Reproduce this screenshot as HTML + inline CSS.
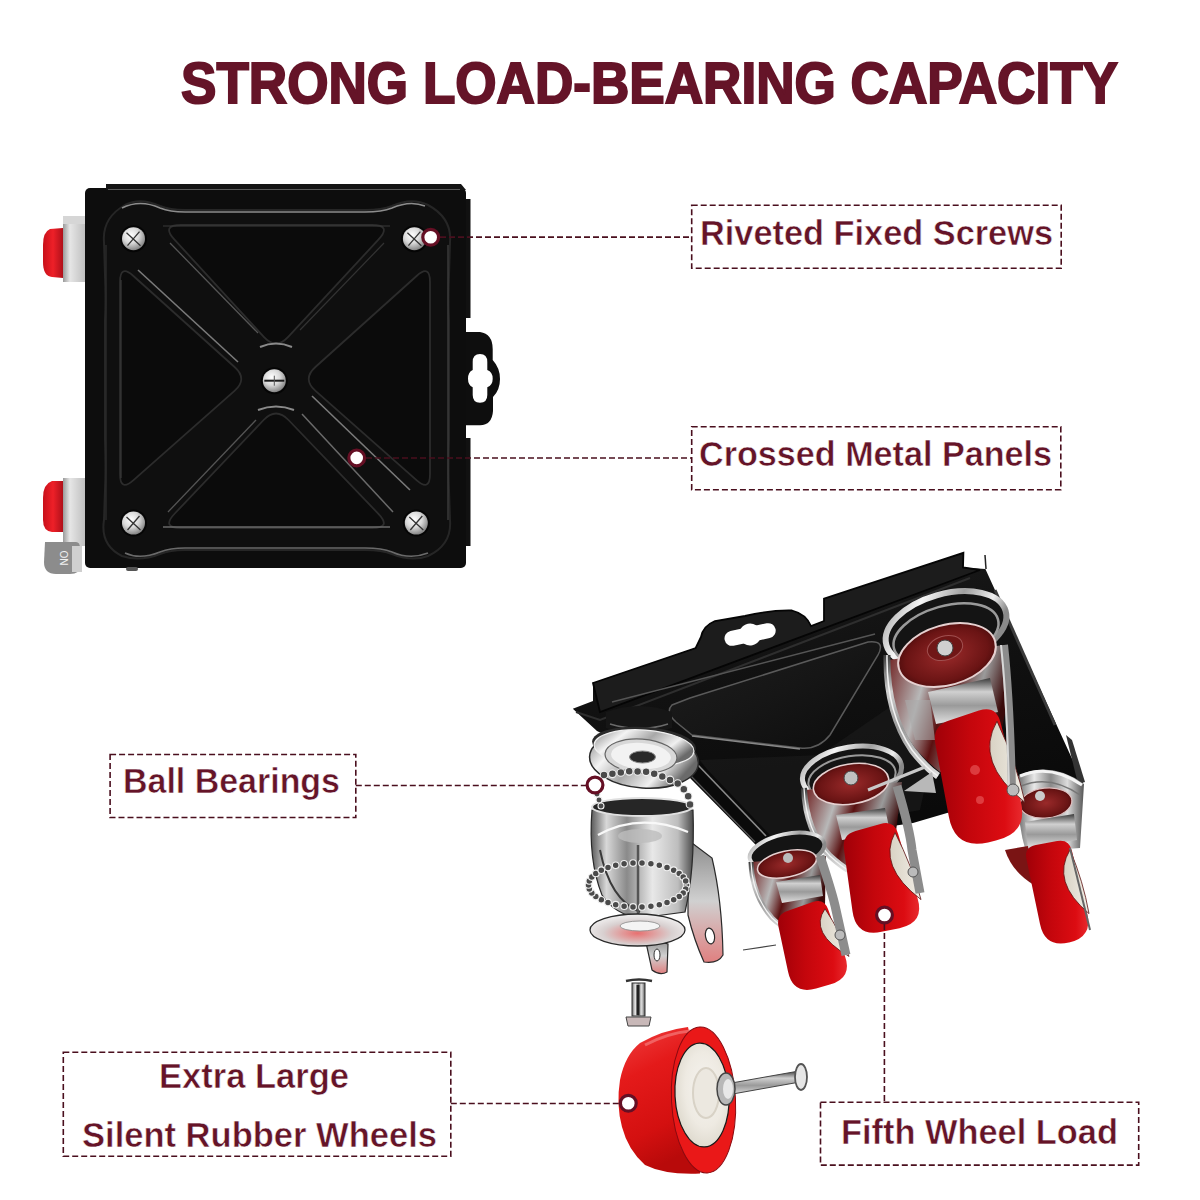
<!DOCTYPE html>
<html><head><meta charset="utf-8">
<style>
html,body{margin:0;padding:0;background:#fff;width:1200px;height:1200px;overflow:hidden}
svg{display:block}
.t{font-family:"Liberation Sans",sans-serif;font-weight:bold;fill:#651428;stroke:#fff;stroke-width:0.5}
.dl{stroke:#4a0f1e;stroke-width:1.6;stroke-dasharray:6 3;fill:none}
</style></head><body>
<svg width="1200" height="1200" viewBox="0 0 1200 1200">

<!-- ===== TOP PLATE ===== -->
<defs>
<radialGradient id="scr" cx="0.4" cy="0.35" r="0.7">
<stop offset="0" stop-color="#ffffff"/><stop offset="0.5" stop-color="#d8d8d8"/><stop offset="1" stop-color="#7a7a7a"/>
</radialGradient>
<linearGradient id="brk" x1="0" x2="1" y1="0" y2="0">
<stop offset="0" stop-color="#9a9a9a"/><stop offset="0.3" stop-color="#e6e6e6"/><stop offset="1" stop-color="#bdbdbd"/>
</linearGradient>
<linearGradient id="redk" x1="0" x2="1" y1="0" y2="0">
<stop offset="0" stop-color="#c8101a"/><stop offset="0.5" stop-color="#ee2028"/><stop offset="1" stop-color="#b0101a"/>
</linearGradient>
</defs>
<!-- left knobs -->
<rect x="63" y="216" width="23" height="66" fill="url(#brk)"/>
<rect x="63" y="216" width="23" height="8" fill="#d6d6d6"/>
<path d="M63 228 L50 229 Q43 232 43 245 L43 262 Q43 276 52 277 L63 278 Z" fill="url(#redk)"/>
<rect x="63" y="478" width="23" height="68" fill="url(#brk)"/>
<path d="M63 481 L52 481 Q43 484 43 498 L43 520 Q43 531 52 532 L63 532 Z" fill="url(#redk)"/>
<path d="M45 542 L76 542 Q80 542 80 548 L80 566 Q80 574 70 574 L56 574 Q44 574 44 562 Z" fill="#8c8c8c"/>
<rect x="72" y="546" width="10" height="26" fill="#cfcfcf"/>
<text x="0" y="0" transform="translate(60,558) rotate(90)" font-family="Liberation Sans" font-size="10" fill="#f0f0f0" text-anchor="middle">ON</text>
<!-- right flanges & tab -->
<rect x="458" y="199" width="12.5" height="119" fill="#111"/>
<rect x="458" y="438" width="12.5" height="108" fill="#111"/>
<path d="M455 332 L480 332 Q492.7 334 492.7 349 L492.7 360 Q500 368 500 379 Q500 390 493 397 L493 411 Q492 425 480 425.3 L455 425.3 Z" fill="#0e0e0e"/>
<path d="M472.7 362 Q472.7 354 480 354 Q487.3 354 487.3 362 L487.3 370 Q492.7 372 492.7 378.7 Q492.7 385 487.3 387.3 L487.3 395 Q487.3 402.7 480 402.7 Q472.7 402.7 472.7 395 L472.7 387.3 Q468 385 468 378.7 Q468 372 472.7 370 Z" fill="#fff"/>
<!-- plate body -->
<rect x="85" y="188" width="381" height="380" rx="5" fill="#0d0d0d"/>
<path d="M106 184 L461 184 L466 190 L106 190 Z" fill="#141414"/>
<line x1="108" y1="189.5" x2="460" y2="189.5" stroke="#5a5a5a" stroke-width="1"/>

<path d="M125 205 Q140 197 160 206 Q170 210 185 210 L365 210 Q382 210 392 206 Q412 197 428 205 Q452 218 450 242 L449 275 Q448 300 449 320 L449 440 Q448 470 449 490 L450 520 Q452 545 428 556 Q412 562 392 554 Q382 550 365 550 L185 550 Q170 550 160 554 Q140 562 122 556 Q100 545 104 520 L105 490 Q106 470 105 440 L105 320 Q106 300 105 275 L104 242 Q102 218 125 205 Z" fill="#0f0f0f" stroke="#262626" stroke-width="2"/>
<path d="M122 208 Q140 199 160 208 Q170 212 185 212 L365 212 Q382 212 392 208 Q410 200 425 206" fill="none" stroke="#8c8c8c" stroke-width="1.6"/>
<path d="M125 553 Q140 560 160 552 Q170 548 185 548 L365 548 Q382 548 392 552 Q410 560 428 553" fill="none" stroke="#6a6a6a" stroke-width="1.6"/>
<path d="M448 245 L448 520" stroke="#3a3a3a" stroke-width="1.5"/>
<path d="M106 245 L106 520" stroke="#2a2a2a" stroke-width="1.5"/>
<path d="M174.5 239.7 Q161.0 225.0 181.0 225.0 L372.0 225.0 Q392.0 225.0 378.4 239.7 L288.2 336.8 Q276.0 350.0 263.8 336.8 Z" fill="#0b0b0b" stroke="#2c2c2c" stroke-width="1.8"/>
<path d="M120.0 282.0 Q120.0 264.0 133.4 276.0 L234.6 367.0 Q248.0 379.0 234.5 390.9 L133.5 480.1 Q120.0 492.0 120.0 474.0 Z" fill="#0b0b0b" stroke="#2c2c2c" stroke-width="1.8"/>
<path d="M430.0 282.0 Q430.0 264.0 416.6 276.0 L315.4 367.0 Q302.0 379.0 315.5 390.9 L416.5 480.1 Q430.0 492.0 430.0 474.0 Z" fill="#0b0b0b" stroke="#2c2c2c" stroke-width="1.8"/>
<path d="M174.8 513.5 Q161.0 528.0 181.0 528.0 L372.0 528.0 Q392.0 528.0 378.2 513.6 L288.5 420.0 Q276.0 407.0 263.6 420.0 Z" fill="#0b0b0b" stroke="#2c2c2c" stroke-width="1.8"/>
<path d="M138 270 L238 362" stroke="#7a7a7a" stroke-width="1.6"/>
<path d="M170 243 L258 333" stroke="#555" stroke-width="1.3"/>
<path d="M384 243 L300 330" stroke="#333" stroke-width="1.2"/>
<path d="M302 414 L393 512" stroke="#6a6a6a" stroke-width="1.5"/>
<path d="M312 396 L410 490" stroke="#7a7a7a" stroke-width="1.6"/>
<path d="M168 512 L256 420" stroke="#555" stroke-width="1.3"/>
<path d="M163 527 L390 527" stroke="#6a6a6a" stroke-width="1.4"/>
<path d="M163 226 L390 226" stroke="#3a3a3a" stroke-width="1.2"/>
<path d="M121 280 L121 478" stroke="#3a3a3a" stroke-width="1.2"/>
<path d="M260 347 Q276 340 292 347" stroke="#8a8a8a" stroke-width="2" fill="none"/>
<path d="M258 410 Q276 403 294 410" stroke="#8a8a8a" stroke-width="2" fill="none"/>
<circle cx="133.5" cy="238.7" r="13.5" fill="#050505"/><circle cx="133.5" cy="238.7" r="11.5" fill="url(#scr)"/>
<path d="M126.5 232.7 L140.5 245.7 M139.5 231.7 L127.5 245.7" stroke="#333" stroke-width="1.3"/>
<circle cx="414.4" cy="238.7" r="13.5" fill="#050505"/><circle cx="414.4" cy="238.7" r="11.5" fill="url(#scr)"/>
<path d="M407.4 232.7 L421.4 245.7 M420.4 231.7 L408.4 245.7" stroke="#333" stroke-width="1.3"/>
<circle cx="274.3" cy="380.7" r="13.5" fill="#050505"/><circle cx="274.3" cy="380.7" r="11.5" fill="url(#scr)"/>
<path d="M264.3 380.7 L284.3 380.7" stroke="#1a1a1a" stroke-width="2"/><path d="M274.3 375.7 L274.3 385.7" stroke="#555" stroke-width="1"/>
<circle cx="133.5" cy="523" r="13.5" fill="#050505"/><circle cx="133.5" cy="523" r="11.5" fill="url(#scr)"/>
<path d="M126.5 517 L140.5 530 M139.5 516 L127.5 530" stroke="#333" stroke-width="1.3"/>
<circle cx="416.3" cy="523" r="13.5" fill="#050505"/><circle cx="416.3" cy="523" r="11.5" fill="url(#scr)"/>
<path d="M409.3 517 L423.3 530 M422.3 516 L410.3 530" stroke="#333" stroke-width="1.3"/>
<rect x="126" y="567" width="12" height="4" rx="2" fill="#555"/>
<!-- ===== ASSEMBLY ===== -->
<defs>
<linearGradient id="plt" x1="0" y1="0" x2="0.3" y2="1">
<stop offset="0" stop-color="#1c1c1c"/><stop offset="0.5" stop-color="#111"/><stop offset="1" stop-color="#0a0a0a"/>
</linearGradient>
<linearGradient id="pan" x1="0" y1="0" x2="1" y2="1">
<stop offset="0" stop-color="#1e1e1e"/><stop offset="0.5" stop-color="#161616"/><stop offset="1" stop-color="#0c0c0c"/>
</linearGradient>
<linearGradient id="chr" x1="0" y1="0" x2="1" y2="0">
<stop offset="0" stop-color="#6a6a6a"/><stop offset="0.25" stop-color="#e8e8e8"/><stop offset="0.5" stop-color="#8a8a8a"/><stop offset="0.75" stop-color="#dcdcdc"/><stop offset="1" stop-color="#555"/>
</linearGradient>
<linearGradient id="chrv" x1="0" y1="0" x2="0" y2="1">
<stop offset="0" stop-color="#3a3a3a"/><stop offset="0.3" stop-color="#d0d0d0"/><stop offset="0.6" stop-color="#9a9a9a"/><stop offset="1" stop-color="#e0e0e0"/>
</linearGradient>
<linearGradient id="red" x1="0" y1="0" x2="1" y2="0">
<stop offset="0" stop-color="#a00008"/><stop offset="0.4" stop-color="#c4060c"/><stop offset="0.8" stop-color="#dc0c12"/><stop offset="1" stop-color="#e82a2e"/>
</linearGradient>
<radialGradient id="dred" cx="0.5" cy="0.5" r="0.6">
<stop offset="0" stop-color="#9a2a2a"/><stop offset="0.7" stop-color="#6a1414"/><stop offset="1" stop-color="#3a0808"/>
</radialGradient>
<linearGradient id="cream" x1="0" y1="0" x2="1" y2="0">
<stop offset="0" stop-color="#d8d2c4"/><stop offset="1" stop-color="#f2eee6"/>
</linearGradient>
<radialGradient id="wash" cx="0.5" cy="0.6" r="0.6">
<stop offset="0" stop-color="#e87070"/><stop offset="0.6" stop-color="#d8d0d0"/><stop offset="1" stop-color="#f2f2f2"/>
</radialGradient>
<linearGradient id="fint" x1="0" y1="0" x2="1" y2="0.3">
<stop offset="0" stop-color="#6a1616"/><stop offset="0.35" stop-color="#b8b8b8"/><stop offset="0.55" stop-color="#5a1010"/><stop offset="0.8" stop-color="#9a9a9a"/><stop offset="1" stop-color="#3a0a0a"/>
</linearGradient>
<linearGradient id="ring" x1="0" y1="0" x2="1" y2="0.5">
<stop offset="0" stop-color="#9a9a9a"/><stop offset="0.3" stop-color="#f6f6f6"/><stop offset="0.6" stop-color="#a0a0a0"/><stop offset="0.85" stop-color="#eeeeee"/><stop offset="1" stop-color="#8a8a8a"/>
</linearGradient>
</defs>

<!-- plate -->
<path d="M572.8 708.7 L593 701 L593 683 L695.7 648 L701 637 Q703 626 715 621 L745 616 Q770 610 792 610.5 Q806 614 811 626 L824 621 L824 598.7 L963.4 552.8 L963 567.5 L985.4 569 L1083 782.7 L947 813 L913 823 L757 846 L690 778 L597 731 Z" fill="url(#plt)"/>
<path d="M593 683 L695.7 648 L701 637 Q703 626 715 621 L745 616 Q770 610 792 610.5 Q806 614 811 626 L824 621 L824 598.7 L963.4 552.8 L963 567.5 L980 570 L600 712 Z" fill="#1c1c1c" stroke="#050505" stroke-width="1.8"/>
<g transform="rotate(-12 750 634)"><rect x="724" y="627" width="52" height="15" rx="7.5" fill="#fff"/><circle cx="750" cy="634.5" r="11" fill="#fff"/></g>
<path d="M985 555 L986 569" stroke="#222" stroke-width="1.5"/>
<path d="M1066 735 L1072 740 L1085 782 L1078 784 Z" fill="#333"/>
<!-- frame highlight lines -->
<path d="M576 712 L600 720 L970 578" stroke="#2e2e2e" stroke-width="2" fill="none"/>
<path d="M612 702 L875 634" stroke="#555" stroke-width="1.4" fill="none"/>
<path d="M995 590 L1055 725" stroke="#3a3a3a" stroke-width="3" fill="none"/>
<!-- inner panel -->
<path d="M672 705 Q665 712 676 722 L692 735 L800 748 Q818 750 830 735 L878 655 Q886 640 868 642 L690 698 Z" fill="url(#pan)" stroke="#5a5a5a" stroke-width="1.5"/>
<path d="M692 736 L800 749" stroke="#888" stroke-width="1.5"/>
<!-- lower plate shading -->
<path d="M700 760 L820 755 L900 700 L940 720 L920 810 L760 840 Z" fill="#1a1a1a" opacity="0.7"/>
<!-- diagonal arm -->
<path d="M688 770 L700 762 L770 835 L757 846 Z" fill="#0a0a0a"/>
<path d="M697 764 L766 836" stroke="#8a8a8a" stroke-width="1.6"/>
<path d="M690 775 L755 842" stroke="#555" stroke-width="1.2"/>
<path d="M606 712 Q640 700 672 712 L672 728 Q640 738 606 728 Z" fill="#161616"/><path d="M610 724 Q640 733 668 724" stroke="#6a6a6a" stroke-width="1.5" fill="none"/>
<!-- caster D -->
<path d="M1018 776 Q1050 760 1084 784 L1080 848 L1026 852 Q1016 820 1018 776 Z" fill="url(#chr)"/>
<path d="M1020 776 Q1050 763 1082 785" stroke="#f4f4f4" stroke-width="3" fill="none"/>
<path d="M1021 786 Q1050 774 1080 795" stroke="#777" stroke-width="1.5" fill="none"/>
<ellipse cx="1046" cy="803" rx="26" ry="15" transform="rotate(-6 1046 803)" fill="url(#dred)" stroke="#e0c0c0" stroke-width="1.2"/>
<circle cx="1040" cy="796" r="5" fill="#ccc"/>
<path d="M1025 822 L1074 814 L1077 840 L1028 848 Z" fill="url(#chrv)"/>
<path d="M1005 850 L1028 846 L1034 885 Q1012 872 1005 850 Z" fill="#7a1414"/>
<path d="M1026.4 858.7 Q1024.0 847.0 1035.8 844.9 L1057.2 841.1 Q1069.0 839.0 1071.9 850.7 L1087.2 913.2 Q1093.0 937.0 1069.1 942.5 L1068.9 942.5 Q1045.0 948.0 1040.0 924.0 Z" fill="url(#red)"/>
<path d="M1070.0 849.8 Q1083.4 881.7 1089.0 913.6 Q1050.9 881.7 1070.0 849.8 Z" fill="url(#cream)" stroke="#5a1010" stroke-width="0.8"/>
<path d="M1070 848 L1090 930" stroke="#666" stroke-width="2"/>
<!-- caster B -->
<ellipse cx="946" cy="628" rx="62" ry="34" transform="rotate(-16 946 628)" fill="#141414" stroke="url(#ring)" stroke-width="6"/>
<ellipse cx="946" cy="634" rx="54" ry="28" transform="rotate(-16 946 634)" fill="none" stroke="#9a9a9a" stroke-width="2.5"/>
<path d="M888 660 Q890 715 915 748 Q930 765 940 772 L995 760 L1008 700 L1004 645 Z" fill="url(#fint)"/>
<path d="M887 655 Q886 712 912 750 Q926 768 938 776" stroke="url(#chrv)" stroke-width="7" fill="none"/>
<path d="M887 655 Q886 712 912 750 Q926 768 938 776" stroke="#f4f4f4" stroke-width="1.5" fill="none"/>
<ellipse cx="947" cy="655" rx="50" ry="30" transform="rotate(-16 947 655)" fill="url(#dred)" stroke="#e6d0d0" stroke-width="2"/>
<ellipse cx="945" cy="648" rx="18" ry="12" transform="rotate(-16 945 648)" fill="#701616" stroke="#a05050" stroke-width="1"/>
<circle cx="945" cy="648" r="8" fill="#d0d0d0" stroke="#444" stroke-width="1"/>
<path d="M928 692 L990 678 L998 712 L936 724 Z" fill="url(#chrv)"/>
<path d="M905 700 L930 700 L935 740 L915 740 Z" fill="#aaa" opacity="0.6"/>
<path d="M935.3 743.7 Q932.0 726.0 949.1 720.4 L978.9 710.6 Q996.0 705.0 1000.5 722.4 L1020.5 800.1 Q1029.0 833.0 995.9 840.6 L988.1 842.4 Q955.0 850.0 948.8 816.6 Z" fill="url(#red)"/>
<path d="M997.0 721.2 Q1016.1 761.8 1025.0 802.4 Q973.6 761.8 997.0 721.2 Z" fill="url(#cream)" stroke="#5a1010" stroke-width="0.8"/>
<path d="M1004 645 Q1010 700 1012 790" stroke="#8c8c8c" stroke-width="8" fill="none"/>
<path d="M1001 645 Q1007 700 1009 790" stroke="#d8d8d8" stroke-width="2" fill="none"/>
<circle cx="1013" cy="790" r="6" fill="#bbb" stroke="#555"/>
<circle cx="975" cy="770" r="5" fill="#f27070" opacity="0.5"/>
<circle cx="980" cy="800" r="4" fill="#f27070" opacity="0.5"/>
<!-- caster C -->
<ellipse cx="852" cy="773" rx="50" ry="26" transform="rotate(-9 852 773)" fill="#141414" stroke="url(#ring)" stroke-width="5"/>
<ellipse cx="852" cy="778" rx="44" ry="22" transform="rotate(-9 852 778)" fill="none" stroke="#9a9a9a" stroke-width="2"/>
<path d="M805 790 Q808 830 830 855 L848 868 L895 840 L902 782 Z" fill="url(#fint)"/>
<path d="M804 788 Q806 832 830 856 Q840 865 848 870" stroke="url(#chrv)" stroke-width="6" fill="none"/>
<path d="M804 788 Q806 832 830 856 Q840 865 848 870" stroke="#f4f4f4" stroke-width="1.3" fill="none"/>
<ellipse cx="851" cy="784" rx="38" ry="20" transform="rotate(-9 851 784)" fill="url(#dred)" stroke="#e6d0d0" stroke-width="1.6"/>
<circle cx="851" cy="778" r="7" fill="#c0c0c0" stroke="#444" stroke-width="1"/>
<path d="M836 815 L885 808 L890 832 L842 840 Z" fill="url(#chrv)"/>
<path d="M843.9 848.9 Q842.0 835.0 855.5 831.1 L880.5 823.9 Q894.0 820.0 898.0 833.4 L917.5 898.1 Q925.0 923.0 899.5 928.2 L881.5 931.8 Q856.0 937.0 852.5 911.2 Z" fill="url(#red)"/>
<path d="M895.0 832.6 Q912.2 866.1 921.0 899.6 Q877.2 866.1 895.0 832.6 Z" fill="url(#cream)" stroke="#5a1010" stroke-width="0.8"/>
<path d="M897 786 Q910 830 912 850 L920 893" stroke="#8c8c8c" stroke-width="9" fill="none"/>
<circle cx="913" cy="872" r="5" fill="#bbb" stroke="#555"/>
<path d="M868 790 L925 767" stroke="#c8c8c8" stroke-width="3"/>
<path d="M904 791 L932 772 L936 793 Z" fill="#b8b8b8"/>
<!-- caster A -->
<ellipse cx="787" cy="851" rx="38" ry="17" transform="rotate(-12 787 851)" fill="#141414" stroke="url(#ring)" stroke-width="4"/>
<path d="M751 862 Q752 895 772 918 L800 935 L825 905 L826 856 Z" fill="url(#fint)"/>
<path d="M751 862 Q752 895 772 918 Q780 926 790 930" stroke="url(#chrv)" stroke-width="5" fill="none"/>
<path d="M751 862 Q752 895 772 918 Q780 926 790 930" stroke="#f4f4f4" stroke-width="1.2" fill="none"/>
<ellipse cx="787" cy="864" rx="30" ry="13" transform="rotate(-12 787 864)" fill="url(#dred)" stroke="#e6d0d0" stroke-width="1.5"/>
<circle cx="788" cy="858" r="5" fill="#bbb"/>
<path d="M776 882 L820 875 L823 896 L782 903 Z" fill="url(#chrv)"/>
<path d="M778.5 926.7 Q776.0 915.0 787.3 911.0 L812.7 902.0 Q824.0 898.0 828.1 909.3 L844.8 955.4 Q853.0 978.0 829.9 984.5 L816.1 988.5 Q793.0 995.0 788.0 971.5 Z" fill="url(#red)"/>
<path d="M825.0 908.8 Q840.9 932.6 849.0 956.4 Q808.4 932.6 825.0 908.8 Z" fill="url(#cream)" stroke="#5a1010" stroke-width="0.8"/>
<path d="M820 856 Q833 895 836 910 L846 955" stroke="#8c8c8c" stroke-width="9" fill="none"/>
<circle cx="840" cy="935" r="5" fill="#bbb" stroke="#555"/>
<path d="M743 950 L776 945" stroke="#444" stroke-width="1.2"/>
<!-- exploded caster -->
<defs>
<linearGradient id="dish" x1="0" y1="0" x2="1" y2="0.4">
<stop offset="0" stop-color="#7a7a7a"/><stop offset="0.3" stop-color="#f4f4f4"/><stop offset="0.55" stop-color="#a8a8a8"/><stop offset="0.8" stop-color="#f0f0f0"/><stop offset="1" stop-color="#6a6a6a"/>
</linearGradient>
<linearGradient id="cyl" x1="0" y1="0" x2="1" y2="0">
<stop offset="0" stop-color="#5a5a5a"/><stop offset="0.15" stop-color="#d8d8d8"/><stop offset="0.35" stop-color="#8a8a8a"/><stop offset="0.6" stop-color="#e8e8e8"/><stop offset="0.85" stop-color="#bdbdbd"/><stop offset="1" stop-color="#4a4a4a"/>
</linearGradient>
<linearGradient id="leg" x1="0" y1="0" x2="0" y2="1">
<stop offset="0" stop-color="#8a8a8a"/><stop offset="0.5" stop-color="#d0d0d0"/><stop offset="1" stop-color="#e08080"/>
</linearGradient>
</defs>
<ellipse cx="644" cy="760" rx="54.5" ry="28" transform="rotate(4 644 760)" fill="url(#dish)" stroke="#2a2a2a" stroke-width="1.5"/>
<ellipse cx="644" cy="745" rx="52" ry="18" transform="rotate(4 644 745)" fill="#2a2a2a"/>
<ellipse cx="644" cy="748" rx="50" ry="18" transform="rotate(4 644 748)" fill="url(#dish)" stroke="#eee" stroke-width="1.2"/>
<ellipse cx="641" cy="756" rx="36" ry="17" transform="rotate(4 641 756)" fill="#d8d8d8" stroke="#666" stroke-width="1.2"/>
<ellipse cx="641" cy="756" rx="30" ry="13" transform="rotate(4 641 756)" fill="#f2f2f2"/>
<ellipse cx="642.5" cy="757" rx="13" ry="6" fill="#2a2a2a" stroke="#888" stroke-width="1"/>
<path d="M688 840 L712 858 Q722 900 723 955 Q718 964 704 962 Q694 940 688 915 Z" fill="url(#leg)" stroke="#2a2a2a" stroke-width="1.2"/>
<ellipse cx="710" cy="936" rx="4.5" ry="8" transform="rotate(-10 710 936)" fill="#fff" stroke="#2a2a2a" stroke-width="1.2"/>
<path d="M592 810 Q588 860 602 895 Q615 915 640 918 L685 912 Q695 870 693 810 Z" fill="url(#cyl)" stroke="#2a2a2a" stroke-width="1.2"/>
<path d="M598 835 Q640 812 688 832" stroke="#f8f8f8" stroke-width="2.2" fill="none"/>
<path d="M600 850 Q610 900 640 912" stroke="#3a3a3a" stroke-width="2" fill="none"/>
<ellipse cx="642" cy="807" rx="50" ry="9" fill="#262626" stroke="#e0e0e0" stroke-width="2"/>
<ellipse cx="640" cy="836" rx="22" ry="7" fill="#bdbdbd" opacity="0.8"/>
<line x1="638" y1="845" x2="638" y2="930" stroke="#555" stroke-width="2.5"/>
<g fill="#4a4a4a" stroke="#f0f0f0" stroke-width="1.1">
<circle cx="604.0" cy="775.0" r="3.8"/>
<circle cx="612.4" cy="773.8" r="3.8"/>
<circle cx="620.8" cy="772.5" r="3.8"/>
<circle cx="629.2" cy="771.3" r="3.8"/>
<circle cx="637.6" cy="771.4" r="3.8"/>
<circle cx="646.1" cy="771.8" r="3.8"/>
<circle cx="654.2" cy="773.8" r="3.8"/>
<circle cx="662.3" cy="776.6" r="3.8"/>
<circle cx="670.0" cy="779.9" r="3.8"/>
<circle cx="677.7" cy="783.6" r="3.8"/>
<circle cx="683.8" cy="789.3" r="3.8"/>
<circle cx="688.2" cy="796.2" r="3.8"/>
<circle cx="690.0" cy="804.5" r="3.8"/>
<circle cx="597.0" cy="794.0" r="3.0"/>
<circle cx="599.0" cy="800.0" r="3.0"/>
<circle cx="601.0" cy="806.0" r="3.0"/>
<circle cx="686.5" cy="885.0" r="3.3"/>
<circle cx="685.7" cy="889.0" r="3.3"/>
<circle cx="683.2" cy="892.9" r="3.3"/>
<circle cx="679.2" cy="896.6" r="3.3"/>
<circle cx="673.7" cy="899.8" r="3.3"/>
<circle cx="667.0" cy="902.6" r="3.3"/>
<circle cx="659.3" cy="904.7" r="3.3"/>
<circle cx="650.9" cy="906.2" r="3.3"/>
<circle cx="642.0" cy="906.9" r="3.3"/>
<circle cx="633.0" cy="906.9" r="3.3"/>
<circle cx="624.1" cy="906.2" r="3.3"/>
<circle cx="615.7" cy="904.7" r="3.3"/>
<circle cx="608.0" cy="902.6" r="3.3"/>
<circle cx="601.3" cy="899.8" r="3.3"/>
<circle cx="595.8" cy="896.6" r="3.3"/>
<circle cx="591.8" cy="892.9" r="3.3"/>
<circle cx="589.3" cy="889.0" r="3.3"/>
<circle cx="588.5" cy="885.0" r="3.3"/>
<circle cx="589.3" cy="881.0" r="3.3"/>
<circle cx="591.8" cy="877.1" r="3.3"/>
<circle cx="595.8" cy="873.4" r="3.3"/>
<circle cx="601.3" cy="870.2" r="3.3"/>
<circle cx="608.0" cy="867.4" r="3.3"/>
<circle cx="615.7" cy="865.3" r="3.3"/>
<circle cx="624.1" cy="863.8" r="3.3"/>
<circle cx="633.0" cy="863.1" r="3.3"/>
<circle cx="642.0" cy="863.1" r="3.3"/>
<circle cx="650.9" cy="863.8" r="3.3"/>
<circle cx="659.3" cy="865.3" r="3.3"/>
<circle cx="667.0" cy="867.4" r="3.3"/>
<circle cx="673.7" cy="870.2" r="3.3"/>
<circle cx="679.2" cy="873.4" r="3.3"/>
<circle cx="683.2" cy="877.1" r="3.3"/>
<circle cx="685.7" cy="881.0" r="3.3"/>
</g>
<path d="M645 938 L668 944 L667 972 Q660 976 652 970 Z" fill="url(#leg)" stroke="#2a2a2a" stroke-width="1.2"/>
<ellipse cx="657" cy="955" rx="3" ry="6" fill="#fff" stroke="#333" stroke-width="1"/>
<ellipse cx="637.5" cy="930" rx="47.5" ry="16" fill="url(#wash)" stroke="#2a2a2a" stroke-width="1.3"/>
<ellipse cx="640" cy="926" rx="20" ry="5" fill="#f4f4f4" stroke="#888" stroke-width="0.8"/>
<!-- exploded wheel -->
<defs>
<linearGradient id="wbody" x1="0" y1="0" x2="0.3" y2="1">
<stop offset="0" stop-color="#f04040"/><stop offset="0.35" stop-color="#e41a1a"/><stop offset="0.75" stop-color="#d41010"/><stop offset="1" stop-color="#b80a0a"/>
</linearGradient>
<radialGradient id="hub" cx="0.55" cy="0.45" r="0.6">
<stop offset="0" stop-color="#f6f4f0"/><stop offset="0.6" stop-color="#eeeae2"/><stop offset="1" stop-color="#ddd8cc"/>
</radialGradient>
</defs>
<path d="M626 981 Q639 978 652 981" stroke="#333" stroke-width="2.5" fill="none"/>
<rect x="632" y="983" width="13" height="33" fill="url(#chr)" stroke="#333" stroke-width="1"/>
<path d="M638 985 L638 1015" stroke="#222" stroke-width="3"/>
<path d="M626 1017 L651 1017 L649 1026 L628 1026 Z" fill="#c8b8b8" stroke="#444" stroke-width="1"/>
<path d="M688 1027 Q663 1030 640 1043 Q625 1055 620 1080 Q616 1105 622 1127 Q628 1150 645 1165 Q665 1175 700 1173.5 L705 1100 Z" fill="url(#wbody)"/>
<path d="M645 1045 Q668 1033 690 1031" stroke="#f47a7a" stroke-width="3" fill="none" opacity="0.7"/>
<ellipse cx="703.5" cy="1100" rx="32" ry="73" transform="rotate(-3 703.5 1100)" fill="#ea1818" stroke="#8a0a10" stroke-width="1"/>
<ellipse cx="702" cy="1095" rx="27" ry="52" transform="rotate(-3 702 1095)" fill="url(#hub)" stroke="#1a1a1a" stroke-width="1.2"/>
<ellipse cx="706" cy="1093" rx="13" ry="25" fill="#ece8e0" stroke="#d8d2c6" stroke-width="2"/>
<path d="M726 1084 L799 1071 L800 1082 L727 1095 Z" fill="url(#chrv)" stroke="#444" stroke-width="1"/>
<ellipse cx="801" cy="1077" rx="6" ry="13" fill="#e6e6e6" stroke="#555" stroke-width="1.8"/>
<ellipse cx="726" cy="1089" rx="9" ry="16" fill="#b8b8b8" stroke="#444" stroke-width="1.5"/>
<ellipse cx="728" cy="1089" rx="5" ry="10" fill="#e8e8e8"/>
<!-- title -->
<text class="t" style="stroke:#651428;stroke-width:2.0" x="181" y="102.6" font-size="56.5" textLength="937" lengthAdjust="spacingAndGlyphs">STRONG LOAD-BEARING CAPACITY</text>
<!-- boxes -->
<rect class="dl" x="691.7" y="205.3" width="369.5" height="63"/>
<text class="t" x="700" y="245" font-size="35.2" textLength="353" lengthAdjust="spacingAndGlyphs">Riveted Fixed Screws</text>
<rect class="dl" x="691.7" y="426.7" width="369.1" height="63"/>
<text class="t" x="699" y="465.8" font-size="35.2" textLength="353" lengthAdjust="spacingAndGlyphs">Crossed Metal Panels</text>
<rect class="dl" x="110.1" y="754.5" width="245.7" height="63"/>
<text class="t" x="123" y="793.4" font-size="35.2" textLength="217" lengthAdjust="spacingAndGlyphs">Ball Bearings</text>
<rect class="dl" x="63.3" y="1052.3" width="387.5" height="103.9"/>
<text class="t" x="159" y="1088.3" font-size="35.2" textLength="190" lengthAdjust="spacingAndGlyphs">Extra Large</text>
<text class="t" x="82" y="1146.8" font-size="35.2" textLength="355" lengthAdjust="spacingAndGlyphs">Silent Rubber Wheels</text>
<rect class="dl" x="820.5" y="1102.2" width="318.2" height="62.9"/>
<text class="t" x="841" y="1144.4" font-size="35.2" textLength="277" lengthAdjust="spacingAndGlyphs">Fifth Wheel Load</text>
<!-- leader lines -->
<line class="dl" x1="440" y1="237.1" x2="691.7" y2="237.1"/>
<line class="dl" x1="366" y1="458" x2="691.7" y2="458"/>
<line class="dl" x1="355.8" y1="785.5" x2="586" y2="785.5"/>
<line class="dl" x1="450.8" y1="1103.5" x2="619" y2="1103.5"/>
<line class="dl" x1="884.4" y1="924" x2="884.4" y2="1102.2"/>

<!-- dots -->
<g fill="#fff" stroke="#650f24" stroke-width="3.2">
<circle cx="430.7" cy="237.2" r="7.9"/>
<circle cx="356.7" cy="457.9" r="7.9"/>
<circle cx="595" cy="785" r="7.9"/>
<circle cx="628.3" cy="1103.3" r="7.9"/>
<circle cx="884.5" cy="915" r="7.9"/>
</g>
</svg>
</body></html>
